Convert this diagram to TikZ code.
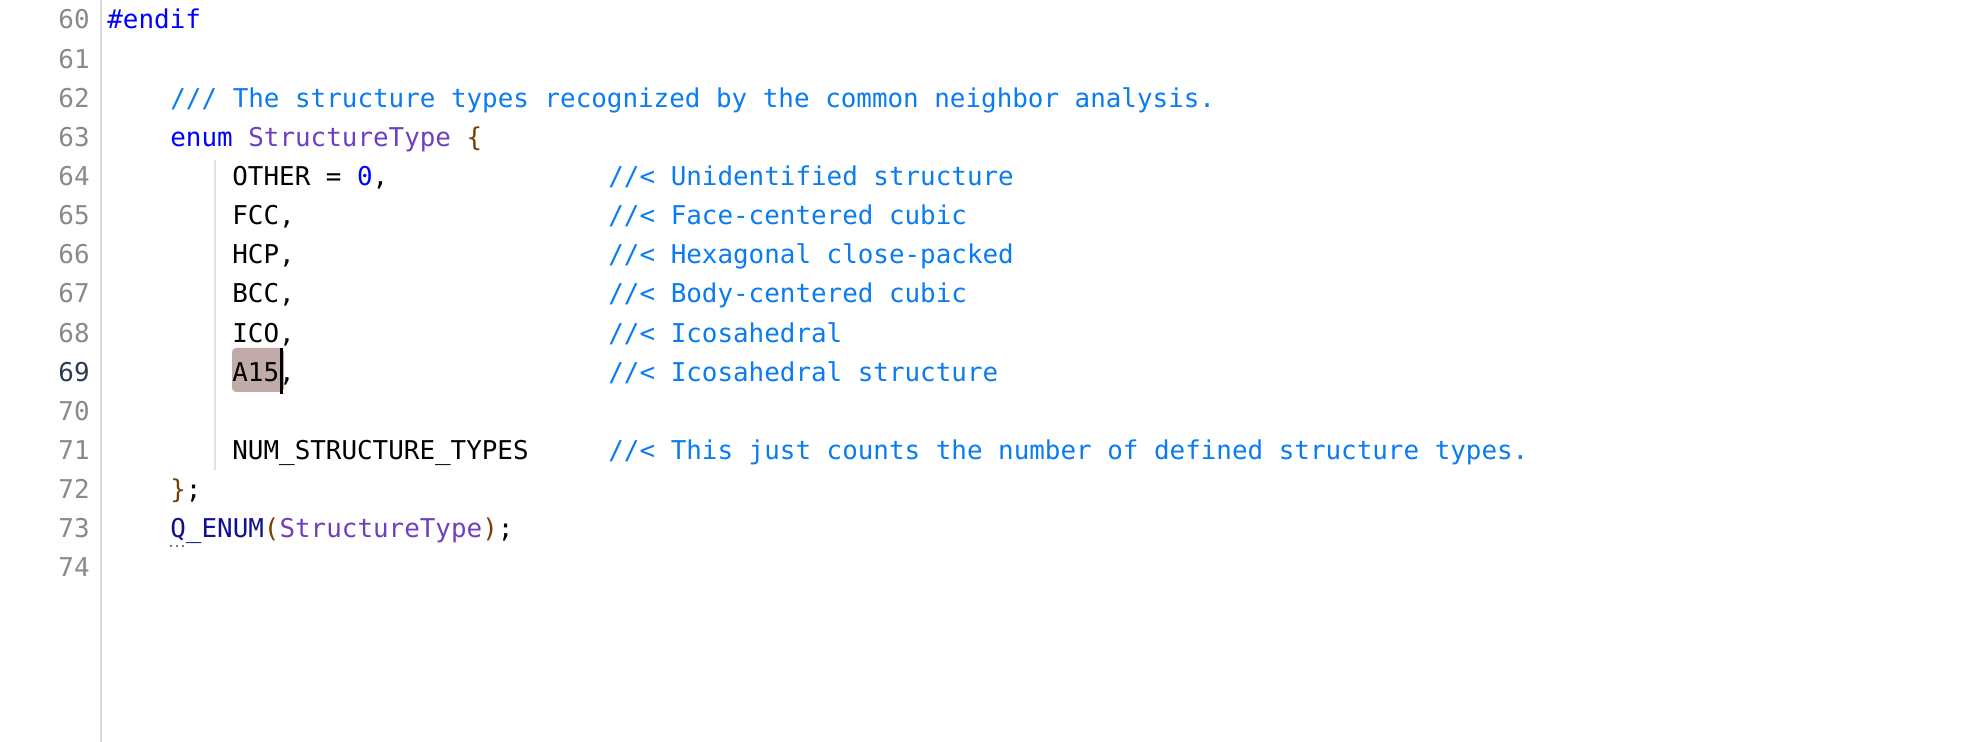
\documentclass[tikz,border=0pt]{standalone}
\usepackage{fontspec}
\setmonofont{DejaVu Sans Mono}
\begin{document}
\begin{tikzpicture}[x=0.5pt,y=-0.5pt,
  t/.style={anchor=base west,inner sep=0pt,font=\ttfamily\fontsize{12.95pt}{14pt}\selectfont},
  ln/.style={anchor=base east,inner sep=0pt,font=\ttfamily\fontsize{12.95pt}{14pt}\selectfont,text=lngray}]
\definecolor{lngray}{HTML}{8A8A8A}
\definecolor{kw}{HTML}{0000FF}
\definecolor{cm}{HTML}{0A7CF0}
\definecolor{pu}{HTML}{6F3FBF}
\definecolor{br}{HTML}{7A3E00}
\definecolor{nav}{HTML}{101090}
\definecolor{hl}{HTML}{C0ABA8}
\definecolor{cur}{HTML}{2B3A55}
\useasboundingbox[fill=white] (0,0) rectangle (1987,742);
% guides
\draw[draw=black!15,line width=1.2pt] (101,0) -- (101,742);
\draw[draw=black!12,line width=1pt] (215,160) -- (215,470);
% highlight & cursor
\fill[hl,rounded corners=2pt] (232,348) rectangle (284,392);
% line numbers
\foreach \n [count=\i from 0] in {60,...,68,70,71,72,73,74}{
  \pgfmathsetmacro\k{\n-60}
  \node[ln] (n\n) at (90,{29+\k*39.14}) {\n};
}
\node[ln,text=cur] (n69) at (90,{29+9*39.14}) {69};
\def\Y#1{{29+(#1-60)*39.14}}
\node[t,text=kw] (l60) at (107,\Y{60}) {\#endif};
\node[t,text=cm] (l62) at (170,\Y{62}) {/// The structure types recognized by the common neighbor analysis.};
\node[t] (l63) at (170,\Y{63}) {\textcolor{kw}{enum} \textcolor{pu}{StructureType} \textcolor{br}{\{}};
\node[t] (l64) at (232,\Y{64}) {OTHER = \textcolor{kw}{0},};
\node[t] (l65) at (232,\Y{65}) {FCC,};
\node[t] (l66) at (232,\Y{66}) {HCP,};
\node[t] (l67) at (232,\Y{67}) {BCC,};
\node[t] (l68) at (232,\Y{68}) {ICO,};
\node[t] (l69) at (232,\Y{69}) {A15,};
\node[t] (l71) at (232,\Y{71}) {NUM\_STRUCTURE\_TYPES};
\foreach \n/\s in {64/Unidentified structure,65/Face-centered cubic,66/Hexagonal close-packed,67/Body-centered cubic,68/Icosahedral,69/Icosahedral structure,71/This just counts the number of defined structure types.}{
  \node[t,text=cm] (c\n) at (608,\Y{\n}) {//< \s};
}
\node[t] (l72) at (170,\Y{72}) {\textcolor{br}{\}};};
\node[t] (l73) at (170,\Y{73}) {\textcolor{nav}{Q\_ENUM}\textcolor{br}{(}\textcolor{pu}{StructureType}\textcolor{br}{)};};
\fill[black] (280,348) rectangle (283,394);
\foreach \xx in {171,177,183} \fill[black!70] (\xx,546) circle (1.1);
\end{tikzpicture}
\end{document}
